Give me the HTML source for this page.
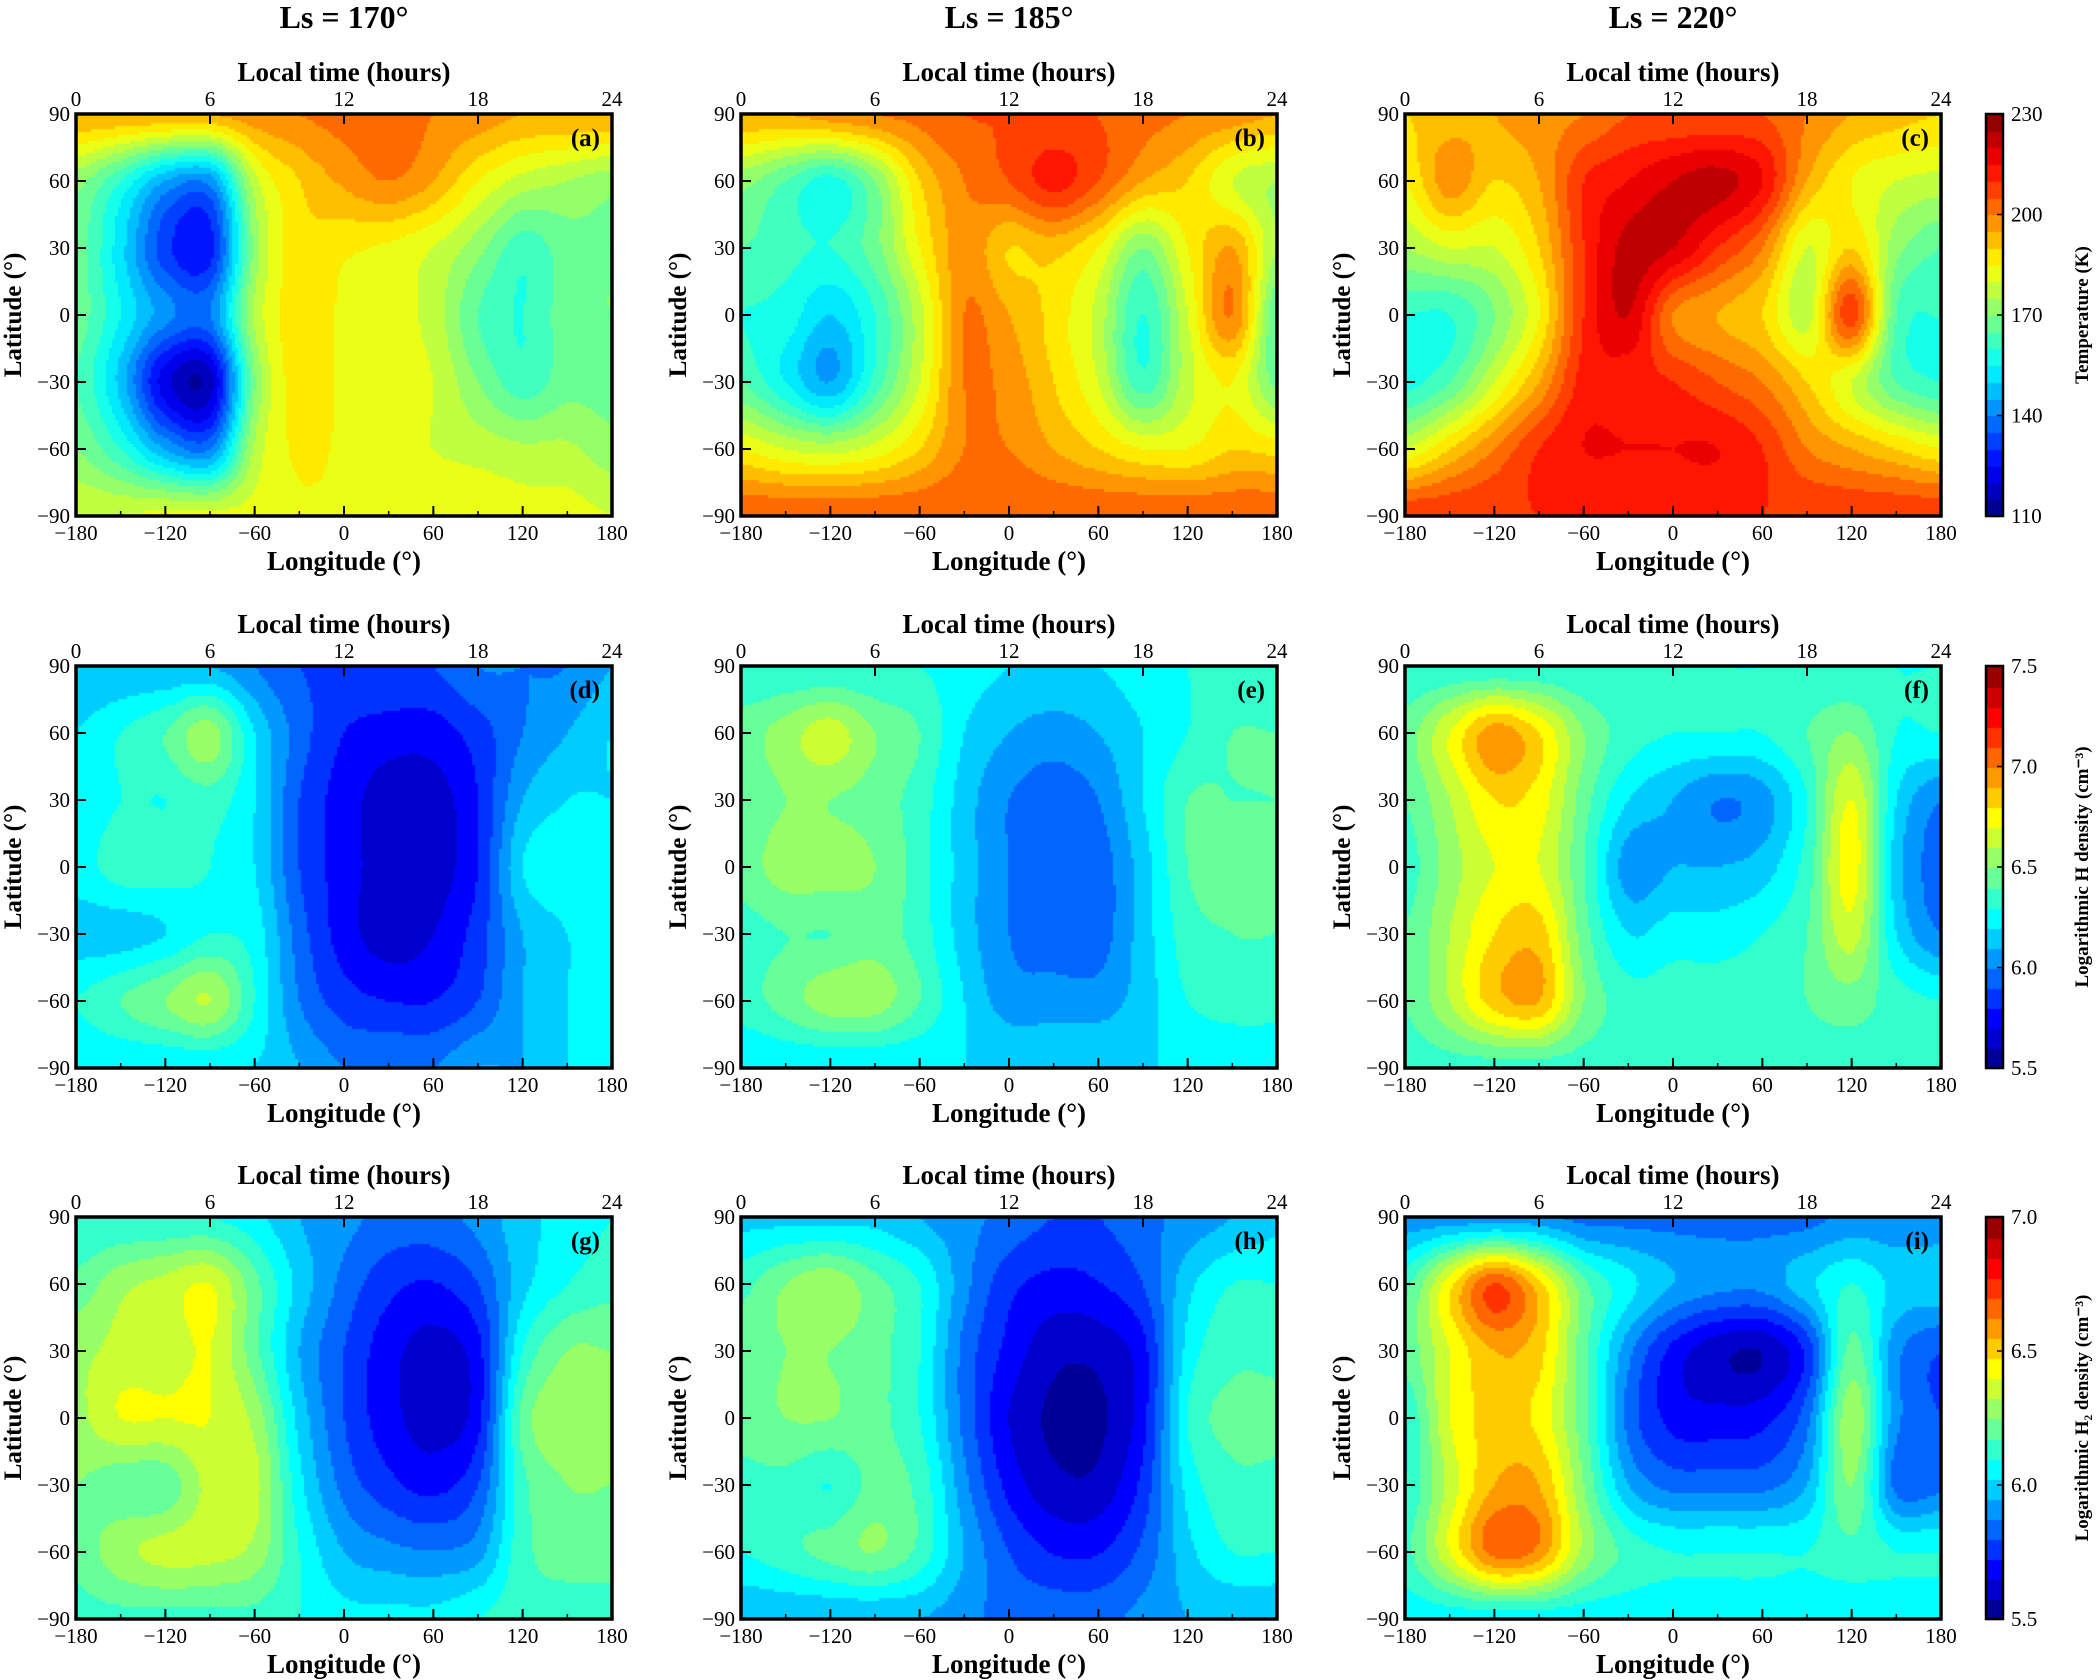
<!DOCTYPE html>
<html><head><meta charset="utf-8">
<style>
html,body{margin:0;padding:0;background:#fff;}
#wrap{position:relative;width:2100px;height:1680px;overflow:hidden;}
canvas,svg{position:absolute;left:0;top:0;}
text{font-family:"Liberation Serif",serif;fill:#000;}
</style></head>
<body>
<div id="wrap">
<canvas id="cv" width="2100" height="1680"></canvas>
<svg id="sv" width="2100" height="1680"></svg>
</div>
<script>
// ---- data ----
const lonTicks=[-180,-120,-60,0,60,120,180];
const latTicks=[90,60,30,0,-30,-60,-90];
const ltTicks=[0,6,12,18,24];
const gridLons=[-180,-150,-120,-90,-60,-30,0,30,60,90,120,150,180];
const gridLats=[90,60,30,0,-30,-60,-90];
const colTitles=["Ls = 170°","Ls = 185°","Ls = 220°"];
const panelLabels=["(a)","(b)","(c)","(d)","(e)","(f)","(g)","(h)","(i)"];
const rangeMin=[110,5.5,5.5];
const rangeMax=[230,7.5,7.0];
const levelCount=[24,20,20];
const cbTicks=[[110,140,170,200,230],[5.5,6.0,6.5,7.0,7.5],[5.5,6.0,6.5,7.0]];
const cbLabels=["Temperature (K)","Logarithmic H density (cm⁻³)","Logarithmic H₂ density (cm⁻³)"];
const fieldA=[[195,195,195,195,198,200,202,203,200,198,195,195,195],[172,160,145,142,178,190,196,200,195,185,178,175,172],[168,152,132,128,172,188,186,184,180,172,162,168,170],[168,155,142,140,176,188,184,182,178,165,160,168,170],[165,148,122,118,170,188,184,182,180,170,162,168,168],[170,160,145,140,176,186,184,182,180,178,176,176,172],[180,180,182,182,182,184,184,184,184,184,182,182,180]];
const fieldB=[[195,195,198,200,202,205,205,205,205,202,200,198,195],[172,165,158,170,190,200,205,212,205,195,190,180,175],[165,162,160,168,185,198,190,192,185,170,185,195,175],[160,158,150,160,178,200,195,188,178,160,180,200,165],[165,155,145,162,180,200,198,190,180,162,178,185,168],[185,180,178,182,190,200,200,195,190,185,185,190,188],[205,205,205,205,205,205,205,205,205,205,205,205,205]];
const fieldC=[[190,192,195,198,200,205,205,205,205,200,195,192,190],[185,198,190,195,210,215,220,222,215,195,185,180,178],[175,180,180,190,210,222,220,210,200,180,190,172,165],[160,160,170,185,210,220,200,195,190,178,208,165,160],[158,165,180,195,212,212,210,205,200,190,180,165,160],[180,190,200,210,215,215,215,215,210,200,195,190,185],[210,210,210,210,210,210,210,210,210,210,210,210,210]];
const fieldD=[[6.1,6.1,6.1,6.1,6.0,5.9,5.9,5.9,5.9,6.0,6.0,6.0,6.1],[6.2,6.3,6.4,6.55,6.2,5.95,5.8,5.75,5.75,5.85,6.0,6.1,6.2],[6.2,6.3,6.3,6.35,6.2,5.9,5.75,5.65,5.65,5.8,6.1,6.2,6.2],[6.25,6.35,6.35,6.3,6.2,5.9,5.75,5.65,5.65,5.8,6.2,6.25,6.25],[6.15,6.15,6.2,6.3,6.25,5.95,5.75,5.65,5.7,5.85,6.1,6.2,6.2],[6.3,6.4,6.5,6.6,6.3,6.0,5.85,5.8,5.8,5.9,6.1,6.2,6.25],[6.2,6.2,6.2,6.2,6.2,6.1,6.0,6.0,6.0,6.1,6.1,6.2,6.2]];
const fieldE=[[6.3,6.3,6.3,6.3,6.3,6.25,6.2,6.2,6.2,6.25,6.3,6.3,6.3],[6.45,6.55,6.65,6.5,6.4,6.2,6.1,6.05,6.1,6.2,6.3,6.4,6.4],[6.4,6.5,6.5,6.45,6.35,6.15,6.0,5.95,6.0,6.2,6.4,6.4,6.4],[6.45,6.55,6.55,6.5,6.35,6.15,6.0,5.95,5.95,6.15,6.4,6.45,6.4],[6.35,6.4,6.4,6.45,6.35,6.15,6.0,5.95,5.95,6.15,6.35,6.4,6.4],[6.35,6.45,6.55,6.55,6.4,6.2,6.05,6.05,6.05,6.15,6.3,6.35,6.35],[6.2,6.2,6.2,6.2,6.2,6.2,6.2,6.2,6.2,6.2,6.2,6.2,6.2]];
const fieldF=[[6.3,6.3,6.3,6.3,6.3,6.3,6.3,6.3,6.3,6.3,6.3,6.3,6.3],[6.45,6.7,6.95,6.8,6.5,6.35,6.3,6.3,6.3,6.4,6.5,6.3,6.3],[6.4,6.6,6.8,6.75,6.45,6.2,6.1,6.0,6.05,6.3,6.7,6.2,6.0],[6.35,6.55,6.7,6.7,6.4,6.05,6.1,6.1,6.15,6.35,6.75,6.15,5.95],[6.4,6.6,6.8,6.85,6.45,6.2,6.25,6.25,6.3,6.4,6.65,6.2,6.0],[6.4,6.6,6.85,6.9,6.5,6.35,6.35,6.35,6.35,6.4,6.45,6.35,6.3],[6.35,6.35,6.35,6.35,6.35,6.35,6.35,6.35,6.35,6.35,6.35,6.35,6.35]];
const fieldG=[[6.1,6.1,6.1,6.1,6.05,5.95,5.9,5.85,5.85,5.9,6.0,6.05,6.1],[6.2,6.3,6.35,6.4,6.2,6.0,5.85,5.75,5.72,5.8,6.0,6.1,6.15],[6.3,6.35,6.35,6.4,6.2,5.95,5.8,5.68,5.62,5.7,6.1,6.25,6.25],[6.3,6.4,6.4,6.4,6.3,6.0,5.8,5.68,5.62,5.7,6.2,6.3,6.3],[6.25,6.2,6.2,6.35,6.35,6.05,5.85,5.75,5.7,5.8,6.15,6.25,6.25],[6.2,6.3,6.35,6.35,6.3,6.1,5.95,5.9,5.88,5.92,6.15,6.2,6.2],[6.15,6.15,6.15,6.15,6.15,6.1,6.05,6.05,6.05,6.1,6.15,6.15,6.15]];
const fieldH=[[6.0,6.0,6.0,6.0,5.95,5.9,5.85,5.8,5.8,5.85,5.9,5.95,6.0],[6.15,6.25,6.3,6.2,6.1,5.9,5.75,5.7,5.72,5.8,6.0,6.1,6.1],[6.2,6.25,6.25,6.2,6.1,5.85,5.7,5.6,5.6,5.7,6.05,6.15,6.15],[6.2,6.25,6.25,6.2,6.1,5.85,5.65,5.56,5.56,5.7,6.1,6.2,6.2],[6.15,6.15,6.1,6.2,6.15,5.9,5.7,5.6,5.6,5.75,6.05,6.15,6.15],[6.1,6.15,6.2,6.25,6.15,5.95,5.8,5.72,5.72,5.82,6.0,6.1,6.1],[5.95,5.95,5.95,5.95,5.95,5.9,5.85,5.85,5.85,5.9,5.95,5.95,5.95]];
const fieldI=[[5.9,5.9,5.9,5.9,5.85,5.85,5.85,5.85,5.85,5.85,5.9,5.9,5.9],[6.15,6.45,6.7,6.5,6.2,6.05,5.95,5.9,5.9,6.0,6.1,6.0,6.0],[6.2,6.4,6.55,6.5,6.2,5.9,5.7,5.6,5.58,5.75,6.2,5.9,5.8],[6.1,6.4,6.5,6.45,6.2,5.85,5.7,5.68,5.7,5.85,6.3,5.9,5.8],[6.1,6.35,6.55,6.55,6.25,5.95,5.85,5.85,5.85,5.95,6.25,5.85,5.85],[6.15,6.4,6.65,6.6,6.3,6.15,6.1,6.1,6.1,6.1,6.15,6.1,6.1],[6.05,6.05,6.05,6.05,6.05,6.05,6.05,6.05,6.05,6.05,6.05,6.05,6.05]];
const fields=[fieldA,fieldB,fieldC,fieldD,fieldE,fieldF,fieldG,fieldH,fieldI];

// ---- layout ----
const PX=[76,741,1405], PY=[114,666,1217], PW=536, PH=402;
const CBX=1986, CBW=17;

function jet(t){
  t=Math.max(0,Math.min(1,t));
  const r=Math.max(0,Math.min(1,1.5-Math.abs(4*t-3)));
  const g=Math.max(0,Math.min(1,1.5-Math.abs(4*t-2)));
  const b=Math.max(0,Math.min(1,1.5-Math.abs(4*t-1)));
  return `rgb(${Math.round(r*255)},${Math.round(g*255)},${Math.round(b*255)})`;
}
function levelColor(v,row){
  const n=levelCount[row],mn=rangeMin[row],mx=rangeMax[row];
  let k=Math.floor((v-mn)/(mx-mn)*n);k=Math.max(0,Math.min(n-1,k));
  return jet((k+0.5)/n);
}
function cr(p0,p1,p2,p3,t){return 0.5*((2*p1)+(-p0+p2)*t+(2*p0-5*p1+4*p2-p3)*t*t+(-p0+3*p1-3*p2+p3)*t*t*t);}
function sample(f,lon,lat){
  const gx=(lon+180)/30, gy=(90-lat)/30;
  const ix=Math.min(11,Math.floor(gx)), iy=Math.min(5,Math.floor(gy));
  const tx=gx-ix, ty=gy-iy;
  const R=r=>f[Math.max(0,Math.min(6,r))];
  const C=(row,c)=>row[Math.max(0,Math.min(12,c))];
  const rows=[];
  for(let j=-1;j<=2;j++){const row=R(iy+j);rows.push(cr(C(row,ix-1),C(row,ix),C(row,ix+1),C(row,ix+2),tx));}
  return cr(rows[0],rows[1],rows[2],rows[3],ty);
}
const xScale=(c,lon)=>PX[c]+(lon+180)/360*PW;
const yScale=(r,lat)=>PY[r]+(90-lat)/180*PH;

const ctx=document.getElementById('cv').getContext('2d');
const step=3;
for(let r=0;r<3;r++)for(let c=0;c<3;c++){
  const f=fields[r*3+c];
  for(let y=0;y<PH;y+=step)for(let x=0;x<PW;x+=step){
    const lon=-180+(x+step/2)/PW*360, lat=90-(y+step/2)/PH*180;
    ctx.fillStyle=levelColor(sample(f,lon,lat),r);
    ctx.fillRect(PX[c]+x,PY[r]+y,step,step);
  }
}
for(let r=0;r<3;r++){
  const n=levelCount[r];
  for(let k=0;k<n;k++){
    ctx.fillStyle=jet((k+0.5)/n);
    const y0=PY[r]+PH-(k+1)/n*PH;
    ctx.fillRect(CBX,Math.floor(y0),CBW,Math.ceil(PH/n)+1);
  }
}

const NS='http://www.w3.org/2000/svg';
const sv=document.getElementById('sv');
function el(tag,attrs,txt){const e=document.createElementNS(NS,tag);for(const k in attrs)e.setAttribute(k,attrs[k]);if(txt!==undefined)e.textContent=txt;sv.appendChild(e);return e;}

for(let c=0;c<3;c++){
  const t=el('text',{x:PX[c]+PW/2,y:28,'font-size':32,'font-weight':'bold','text-anchor':'middle'},colTitles[c]);
  
  
}
for(let r=0;r<3;r++)for(let c=0;c<3;c++){
  const x0=PX[c],y0=PY[r];
  const fr=el('rect',{x:x0,y:y0,width:PW,height:PH,fill:'none',stroke:'#000','stroke-width':3.5});
  
  
  lonTicks.forEach(v=>{
    const x=xScale(c,v);
    el('line',{x1:x,x2:x,y1:y0+PH,y2:y0+PH-10,stroke:'#000','stroke-width':2});
    const t=el('text',{x:x,y:y0+PH+24,'font-size':21,'text-anchor':'middle'},v<0?'−'+(-v):String(v));
    
    
  });
  for(let v=-150;v<=150;v+=30){const x=xScale(c,v);el('line',{x1:x,x2:x,y1:y0+PH,y2:y0+PH-5,stroke:'#000','stroke-width':1.5});}
  ltTicks.forEach(v=>{
    const x=x0+v/24*PW;
    el('line',{x1:x,x2:x,y1:y0,y2:y0+10,stroke:'#000','stroke-width':2});
    const t=el('text',{x:x,y:y0-8,'font-size':21,'text-anchor':'middle'},String(v));
    
    
  });
  latTicks.forEach(v=>{
    const y=yScale(r,v);
    el('line',{x1:x0,x2:x0+10,y1:y,y2:y,stroke:'#000','stroke-width':2});
    const t=el('text',{x:x0-6,y:y+7,'font-size':21,'text-anchor':'end'},v<0?'−'+(-v):String(v));
    
    
  });
  const xl=el('text',{x:x0+PW/2,y:y0+PH+54,'font-size':27,'font-weight':'bold','text-anchor':'middle'},'Longitude (°)');
  
  
  const tl=el('text',{x:x0+PW/2,y:y0-33,'font-size':27,'font-weight':'bold','text-anchor':'middle'},'Local time (hours)');
  
  
  const yl=el('text',{x:0,y:0,'font-size':25,'font-weight':'bold','text-anchor':'middle',transform:`translate(${x0-55},${y0+PH/2}) rotate(-90)`},'Latitude (°)');
  
  
  const pl=el('text',{x:x0+PW-12,y:y0+32,'font-size':25,'font-weight':'bold','text-anchor':'end'},panelLabels[r*3+c]);
  
  
}
for(let r=0;r<3;r++){
  const y0=PY[r];
  const cf=el('rect',{x:CBX,y:y0,width:CBW,height:PH,fill:'none',stroke:'#000','stroke-width':2.5});
  
  
  cbTicks[r].forEach(v=>{
    const y=y0+PH-(v-rangeMin[r])/(rangeMax[r]-rangeMin[r])*PH;
    el('line',{x1:CBX+CBW-6,x2:CBX+CBW,y1:y,y2:y,stroke:'#000','stroke-width':1.5});
    const t=el('text',{x:CBX+CBW+8,y:y+7,'font-size':21},r===0?String(v):v.toFixed(1));
    
    
  });
  const cl=el('text',{x:0,y:0,'font-size':19,'font-weight':'bold','text-anchor':'middle',transform:`translate(${2088},${y0+PH/2}) rotate(-90)`},cbLabels[r]);
  
  
}
</script>
</body></html>
